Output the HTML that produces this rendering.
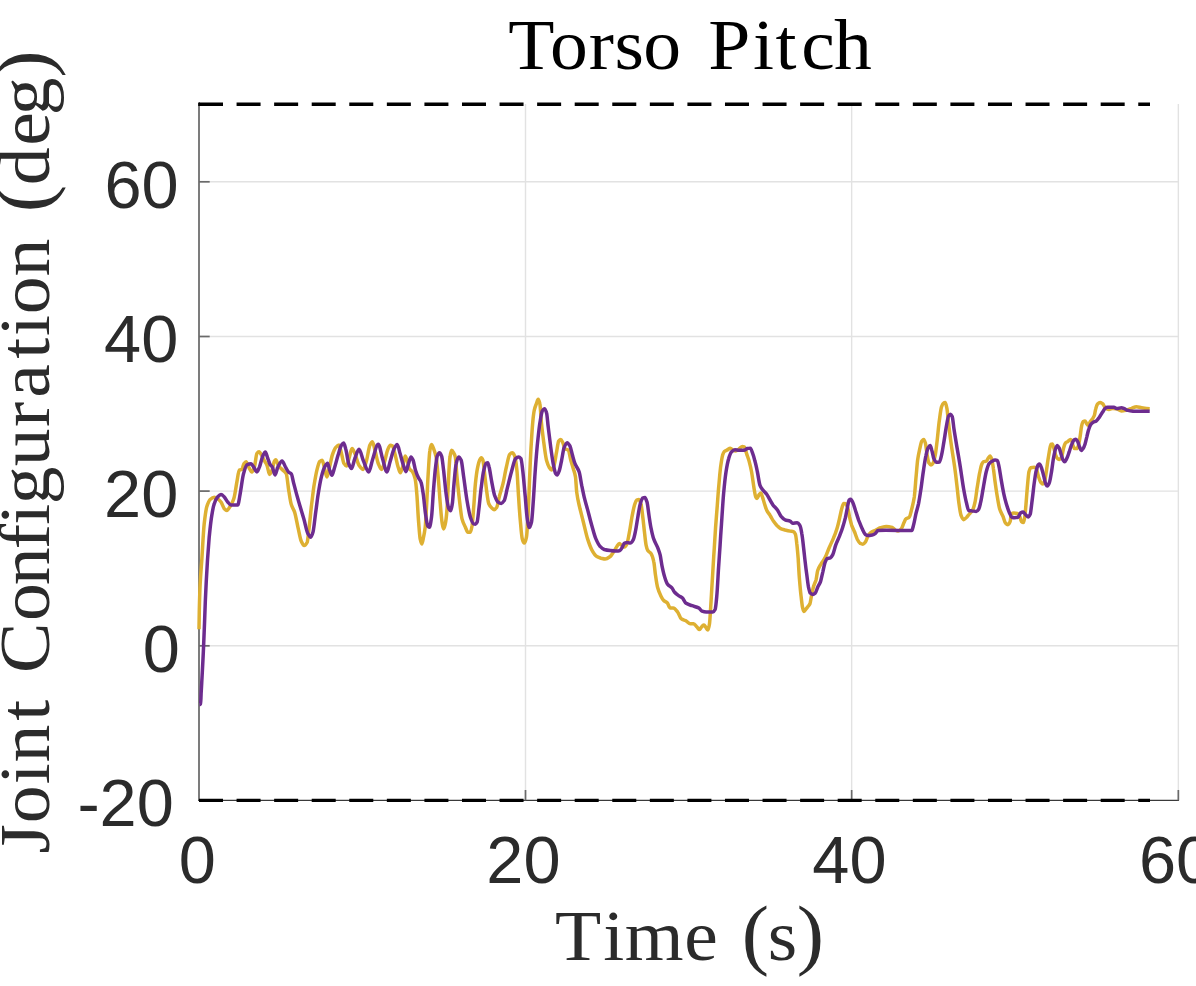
<!DOCTYPE html>
<html><head><meta charset="utf-8"><title>Torso Pitch</title>
<style>
html,body{margin:0;padding:0;background:#fff;}
body{width:1196px;height:986px;overflow:hidden;}
svg{display:block;}
.tk{font-family:"Liberation Sans",sans-serif;font-size:66.7px;fill:#2b2b2b;}
.lb{font-family:"Liberation Serif",serif;font-variant-ligatures:none;font-kerning:none;}
</style></head><body>
<svg width="1196" height="986" viewBox="0 0 1196 986">
<rect width="1196" height="986" fill="#fff"/>
<defs><clipPath id="ax"><rect x="197" y="100" width="985" height="703"/></clipPath></defs>
<g fill="none">
<line x1="525.5" y1="104" x2="525.5" y2="800" stroke="#e2e2e2" stroke-width="1.4"/>
<line x1="851.65" y1="104" x2="851.65" y2="800" stroke="#e2e2e2" stroke-width="1.4"/>
<line x1="1178.35" y1="104" x2="1178.35" y2="800" stroke="#e2e2e2" stroke-width="1.4"/>
<line x1="199" y1="181.8" x2="1178.3" y2="181.8" stroke="#e2e2e2" stroke-width="1.4"/>
<line x1="199" y1="336.5" x2="1178.3" y2="336.5" stroke="#e2e2e2" stroke-width="1.4"/>
<line x1="199" y1="491.1" x2="1178.3" y2="491.1" stroke="#e2e2e2" stroke-width="1.4"/>
<line x1="199" y1="645.8" x2="1178.3" y2="645.8" stroke="#e2e2e2" stroke-width="1.4"/>
</g>
<line x1="199" y1="103" x2="199" y2="801" stroke="#7c7c7c" stroke-width="2"/>
<line x1="198.2" y1="800.4" x2="1179" y2="800.4" stroke="#3a3a3a" stroke-width="1.1"/>
<g stroke="#6a6a6a" stroke-width="1.7">
<line x1="199" y1="181.8" x2="209.7" y2="181.8"/>
<line x1="199" y1="336.5" x2="209.7" y2="336.5"/>
<line x1="199" y1="491.1" x2="209.7" y2="491.1"/>
<line x1="199" y1="645.8" x2="209.7" y2="645.8"/>
<line x1="525.5" y1="800.4" x2="525.5" y2="790"/>
<line x1="851.65" y1="800.4" x2="851.65" y2="790"/>
<line x1="1178.35" y1="800.4" x2="1178.35" y2="790"/>
</g>
<g clip-path="url(#ax)" fill="none" stroke-width="3.5" stroke-linejoin="round" stroke-linecap="butt">
<path stroke="#deb032" d="M199.0,629.3C199.1,622.1 199.2,614.8 199.3,610.2C199.6,598.7 199.8,590.9 200.1,585.1C200.7,573.5 201.2,568.4 201.8,560.0C202.6,547.9 203.4,531.2 204.2,523.8C205.1,516.0 205.9,509.9 206.7,507.0C207.9,503.2 209.0,500.5 210.1,499.5C211.5,498.3 212.9,497.3 214.3,497.3C215.4,497.3 216.5,498.0 217.6,498.7C218.7,499.3 219.8,500.5 221.0,502.0C222.1,503.5 223.2,507.6 224.3,508.7C225.1,509.5 226.0,510.4 226.8,510.4C227.9,510.4 229.1,507.9 230.2,506.2C231.4,504.3 232.6,502.4 233.8,498.7C234.9,495.6 235.9,487.1 236.9,481.9C237.7,477.6 238.5,470.2 239.4,469.9C240.2,469.6 241.0,469.7 241.9,469.4C242.6,469.1 243.2,464.8 243.9,463.8C244.6,462.8 245.3,461.8 246.1,461.8C246.9,461.8 247.7,465.4 248.6,466.9C249.7,468.8 250.8,471.9 251.9,471.9C252.8,471.9 253.6,469.3 254.4,466.9C255.3,464.4 256.1,454.6 256.9,453.5C257.6,452.5 258.3,451.8 259.0,451.8C260.0,451.8 261.0,454.3 262.0,456.0C262.8,457.4 263.6,459.5 264.5,461.0C265.3,462.5 266.2,463.3 267.0,465.2C267.8,467.1 268.7,474.4 269.5,474.4C270.3,474.4 271.2,472.1 272.0,470.2C272.8,468.3 273.7,462.2 274.5,461.0C274.9,460.4 275.3,459.8 275.7,459.8C276.7,459.8 277.7,464.6 278.7,466.0C280.1,467.9 281.5,468.8 282.9,470.2C284.0,471.3 285.1,471.5 286.2,473.6C287.1,475.1 287.9,485.2 288.7,490.3C289.6,495.4 290.4,501.8 291.3,504.5C292.4,508.2 293.5,508.7 294.6,512.1C295.7,515.4 296.8,522.2 297.9,527.1C299.1,532.0 300.2,538.9 301.3,541.3C302.2,543.4 303.2,545.5 304.1,545.5C305.1,545.5 306.2,544.2 307.2,542.2C307.8,540.8 308.5,532.6 309.2,527.1C309.9,521.1 310.6,513.3 311.3,507.0C312.2,499.8 313.0,492.5 313.8,486.9C314.9,480.3 315.9,474.2 316.9,470.2C317.8,466.5 318.8,462.4 319.7,461.5C320.5,460.8 321.4,460.2 322.2,460.2C322.9,460.2 323.6,464.5 324.2,466.9C325.1,470.0 326.0,476.9 326.9,476.9C327.7,476.9 328.5,471.6 329.2,468.5C330.3,464.6 331.3,458.2 332.3,455.1C333.4,451.8 334.5,448.9 335.6,447.6C336.7,446.4 337.8,445.1 339.0,445.1C339.8,445.1 340.6,450.4 341.5,453.5C342.3,456.5 343.1,462.2 344.0,463.5C344.8,464.9 345.6,466.0 346.5,466.0C347.3,466.0 348.2,461.1 349.0,458.5C350.0,455.3 351.0,448.5 352.0,448.5C353.0,448.5 353.9,451.4 354.9,453.5C356.2,456.4 357.6,463.1 359.0,465.2C360.4,467.2 361.8,469.4 363.2,469.4C364.3,469.4 365.5,464.0 366.6,460.2C367.7,456.4 368.8,447.3 369.9,445.1C370.8,443.4 371.6,441.8 372.4,441.8C373.3,441.8 374.1,447.1 374.9,450.1C376.1,454.2 377.2,460.8 378.3,463.5C379.4,466.2 380.5,469.4 381.6,469.4C382.7,469.4 383.9,463.8 385.0,460.2C385.8,457.4 386.7,452.3 387.5,450.3C388.5,447.9 389.4,445.2 390.4,445.2C391.1,445.2 391.8,445.6 392.6,446.1C393.4,446.6 394.2,451.3 395.1,454.4C396.1,458.1 397.1,463.9 398.1,467.0C398.9,469.4 399.6,472.8 400.4,472.8C401.1,472.8 401.9,469.4 402.6,467.0C403.4,464.2 404.3,456.1 405.1,456.1C405.8,456.1 406.4,458.5 407.1,460.3C407.8,462.2 408.6,467.5 409.3,468.7C410.4,470.5 411.5,470.3 412.6,472.0C413.5,473.3 414.3,475.1 415.1,478.7C415.7,481.1 416.3,487.3 416.8,493.8C417.4,500.2 417.9,513.3 418.5,520.5C419.1,527.8 419.6,536.3 420.2,539.0C420.7,541.6 421.3,544.0 421.8,544.0C422.4,544.0 423.0,540.0 423.5,537.3C424.1,534.6 424.6,532.1 425.2,527.2C425.6,523.4 426.1,514.8 426.5,507.2C427.1,497.6 427.6,482.9 428.2,473.7C428.8,464.5 429.3,453.4 429.9,450.3C430.4,447.1 431.0,444.4 431.5,444.4C432.2,444.4 432.9,446.9 433.6,448.6C434.4,450.7 435.2,452.8 436.1,456.9C436.8,460.5 437.5,469.1 438.2,477.0C438.9,484.4 439.6,496.2 440.3,503.8C440.9,511.5 441.6,520.3 442.3,523.9C442.7,526.3 443.2,528.9 443.6,528.9C444.2,528.9 444.7,526.3 445.3,523.9C445.8,521.5 446.4,517.0 446.9,510.5C447.4,505.3 447.8,491.7 448.3,483.7C448.8,473.8 449.4,460.5 450.0,456.9C450.5,453.4 451.1,450.3 451.6,450.3C452.3,450.3 453.0,451.6 453.6,452.8C454.2,453.7 454.8,454.6 455.3,456.9C455.9,459.3 456.4,471.1 457.0,477.0C457.8,485.9 458.7,493.6 459.5,500.5C460.3,507.3 461.2,515.7 462.0,518.9C463.1,523.1 464.2,524.8 465.4,527.2C466.2,529.1 467.0,532.3 467.9,532.3C468.7,532.3 469.5,532.3 470.4,532.3C470.9,532.3 471.5,528.8 472.1,525.6C472.6,522.3 473.2,514.0 473.7,507.2C474.3,500.3 474.8,489.2 475.4,483.7C476.1,477.1 476.7,472.1 477.4,468.7C478.1,465.0 478.9,461.8 479.6,460.3C480.1,459.1 480.7,457.8 481.3,457.8C481.8,457.8 482.4,458.9 482.9,460.3C483.5,461.7 484.0,469.1 484.6,473.7C485.3,479.6 486.1,487.1 486.8,492.1C487.4,496.7 488.1,502.2 488.8,503.8C489.8,506.2 490.8,507.1 491.8,508.0C492.6,508.7 493.4,509.7 494.1,509.7C495.0,509.7 495.9,508.5 496.8,507.2C497.6,505.9 498.4,500.1 499.2,497.1C500.4,492.1 501.7,489.0 503.0,483.7C504.1,479.1 505.2,471.8 506.4,467.0C507.5,462.2 508.6,455.7 509.7,454.4C510.5,453.5 511.4,452.8 512.2,452.8C513.1,452.8 513.9,454.2 514.7,456.1C515.5,457.7 516.2,463.5 516.9,470.3C517.5,475.6 518.0,489.0 518.6,497.1C519.2,506.9 519.9,516.7 520.6,523.9C521.1,529.9 521.7,537.0 522.3,539.0C522.9,541.3 523.6,543.1 524.3,543.1C525.0,543.1 525.7,540.7 526.4,537.3C527.0,534.7 527.6,523.7 528.1,513.8C528.7,504.0 529.2,485.9 529.8,473.7C530.3,461.5 530.9,449.0 531.5,440.2C532.0,431.4 532.6,423.5 533.1,418.5C533.5,414.9 533.9,411.8 534.3,410.1C535.0,406.8 535.8,405.4 536.5,403.4C537.0,401.9 537.6,399.2 538.2,399.2C538.7,399.2 539.3,401.1 539.8,403.4C540.4,405.7 540.9,417.9 541.5,423.5C542.2,430.7 543.0,436.5 543.7,441.9C544.6,448.9 545.6,456.7 546.5,460.3C547.4,463.4 548.2,465.6 549.0,467.0C549.9,468.4 550.7,470.0 551.5,470.0C552.4,470.0 553.2,467.6 554.1,465.3C554.9,463.0 555.7,456.2 556.6,451.9C557.3,448.2 558.0,442.1 558.7,441.0C559.4,440.1 560.1,439.4 560.8,439.4C561.4,439.4 562.1,441.3 562.8,442.7C563.5,444.2 564.2,447.9 564.9,448.6C566.1,449.6 567.2,449.2 568.3,450.3C569.1,451.0 570.0,457.2 570.8,460.3C571.6,463.3 572.5,465.7 573.3,468.7C574.0,471.3 574.8,472.5 575.5,477.0C575.9,479.5 576.3,489.0 576.7,492.1C577.8,500.6 578.9,503.8 580.0,508.8C581.2,513.7 582.3,517.7 583.4,522.2C584.8,527.8 586.2,534.5 587.6,538.9C589.0,543.3 590.4,547.3 591.8,549.8C593.4,552.8 595.1,555.5 596.8,556.5C598.2,557.3 599.6,557.8 601.0,558.2C602.4,558.5 603.8,559.0 605.1,559.0C606.8,559.0 608.5,557.7 610.2,556.5C611.4,555.6 612.6,553.3 613.8,551.5C614.9,550.0 615.9,547.8 616.9,546.4C617.7,545.3 618.5,543.6 619.4,543.6C620.2,543.6 621.0,545.1 621.9,545.6C622.7,546.1 623.6,546.9 624.4,546.9C625.2,546.9 626.1,545.5 626.9,543.9C627.7,542.3 628.6,536.6 629.4,532.2C630.3,527.8 631.1,521.5 631.9,517.2C632.8,512.8 633.6,508.1 634.4,505.4C635.2,503.1 635.9,500.4 636.6,500.1C637.4,499.8 638.2,499.6 639.0,499.6C639.7,499.6 640.4,502.0 641.1,504.6C641.7,506.6 642.2,512.6 642.8,517.2C643.4,521.7 643.9,527.5 644.5,532.2C645.0,536.9 645.6,543.2 646.2,545.6C646.7,548.0 647.3,549.8 647.8,550.6C648.9,552.2 649.9,552.0 651.0,553.5C651.9,554.8 652.9,557.6 653.8,561.8C654.4,564.3 654.9,571.5 655.5,575.2C656.2,580.1 656.9,585.2 657.7,587.8C658.8,591.8 659.9,593.9 661.0,596.2C661.8,597.8 662.7,599.5 663.5,600.3C664.7,601.6 666.0,601.6 667.2,602.8C668.2,603.8 669.2,607.9 670.2,607.9C671.2,607.9 672.2,607.9 673.2,607.9C674.7,607.9 676.2,610.1 677.7,612.1C678.9,613.5 680.0,617.9 681.1,618.7C682.8,620.0 684.4,620.0 686.1,620.9C687.5,621.7 688.9,623.8 690.3,623.8C691.4,623.8 692.5,623.8 693.6,623.8C694.8,623.8 695.9,626.0 697.0,627.1C697.8,627.9 698.7,629.6 699.5,629.6C700.3,629.6 701.2,626.9 702.0,626.3C702.7,625.7 703.3,625.1 704.0,625.1C704.6,625.1 705.1,626.4 705.7,627.1C706.4,628.0 707.1,630.1 707.9,630.1C708.4,630.1 709.0,627.2 709.5,623.8C709.9,621.3 710.3,613.2 710.7,607.0C711.2,600.0 711.6,591.1 712.1,583.6C712.6,574.3 713.2,565.7 713.7,556.8C714.4,546.9 715.0,536.1 715.6,527.2C716.2,519.3 716.7,512.7 717.3,505.4C717.8,498.2 718.4,490.0 719.0,483.7C719.5,477.4 720.1,471.1 720.6,466.9C721.3,462.0 722.0,457.3 722.6,455.2C723.2,453.5 723.8,452.1 724.3,451.5C725.3,450.6 726.3,450.4 727.3,449.9C728.3,449.3 729.3,448.2 730.3,448.2C731.3,448.2 732.2,449.8 733.2,450.2C734.0,450.6 734.9,451.0 735.7,451.0C736.8,451.0 737.9,449.6 739.0,448.9C740.2,448.1 741.3,446.5 742.4,446.5C743.1,446.5 743.7,446.7 744.4,446.9C745.1,447.1 745.8,451.4 746.6,453.6C747.4,456.1 748.2,458.1 749.1,461.1C749.9,464.1 750.8,467.6 751.6,472.0C752.4,476.4 753.3,484.0 754.1,488.7C754.7,491.9 755.2,496.2 755.8,497.1C756.2,497.8 756.7,498.4 757.1,498.4C757.8,498.4 758.5,495.4 759.1,494.6C759.7,493.8 760.2,492.9 760.8,492.9C761.4,492.9 761.9,495.5 762.5,497.1C763.3,499.4 764.1,502.9 765.0,505.4C765.6,507.2 766.1,509.1 766.7,510.2C767.8,512.5 768.9,513.4 770.0,515.2C771.2,517.0 772.3,519.5 773.4,521.1C774.5,522.7 775.6,524.1 776.7,525.3C777.9,526.4 779.0,527.7 780.1,528.3C781.8,529.1 783.4,529.5 785.1,530.0C786.8,530.4 788.5,530.8 790.1,531.1C791.2,531.3 792.4,531.3 793.5,531.6C794.1,531.8 794.8,532.8 795.5,534.5C795.9,535.6 796.4,539.9 796.8,543.7C797.3,547.5 797.7,552.9 798.2,558.7C798.5,563.9 798.9,572.0 799.3,577.2C799.9,584.5 800.4,590.6 801.0,595.6C801.6,600.5 802.1,606.1 802.7,608.1C803.1,609.8 803.6,611.5 804.0,611.5C804.7,611.5 805.4,609.8 806.0,609.0C806.6,608.3 807.1,607.7 807.7,606.9C808.4,606.0 809.1,605.5 809.9,603.9C810.4,602.7 811.0,598.2 811.5,595.6C812.2,592.4 812.9,588.6 813.6,586.4C814.4,583.5 815.2,582.7 816.1,579.7C816.6,577.6 817.2,572.2 817.7,570.5C818.9,567.0 820.0,565.6 821.1,563.8C821.9,562.4 822.8,561.5 823.6,560.1C824.4,558.7 825.3,557.2 826.1,555.4C827.2,553.0 828.3,549.6 829.5,547.0C830.9,543.8 832.2,541.2 833.6,537.8C834.8,535.1 835.9,532.3 837.0,528.6C837.8,525.9 838.7,522.1 839.5,518.6C840.3,515.1 841.2,510.3 842.0,507.7C842.6,506.0 843.1,503.5 843.7,503.5C844.4,503.5 845.0,503.6 845.7,503.8C846.4,504.1 847.1,506.3 847.9,508.5C848.4,510.2 849.0,514.5 849.5,516.9C850.3,520.1 851.0,523.1 851.7,525.3C852.7,528.1 853.6,529.6 854.6,532.0C855.5,534.3 856.5,537.7 857.4,539.5C858.3,541.2 859.2,542.9 860.1,543.3C861.0,543.8 862.0,544.2 862.9,544.2C863.8,544.2 864.6,543.1 865.4,542.0C866.3,541.0 867.1,537.6 867.9,536.2C868.8,534.7 869.6,533.4 870.5,532.8C872.1,531.5 873.8,531.1 875.5,530.3C877.2,529.5 878.8,528.3 880.5,527.8C882.5,527.2 884.4,526.4 886.4,526.4C888.3,526.4 890.3,526.9 892.2,527.4C893.3,527.8 894.4,529.8 895.6,530.3C896.4,530.7 897.2,531.1 898.1,531.1C899.2,531.1 900.3,529.9 901.4,528.6C902.3,527.6 903.1,524.5 903.9,522.8C904.6,521.4 905.2,519.4 905.9,518.9C907.0,518.0 908.1,518.2 909.2,517.2C910.1,516.5 910.9,512.1 911.8,508.8C912.6,505.6 913.4,502.8 914.3,497.1C914.8,493.4 915.4,484.9 915.9,478.7C916.5,472.6 917.1,464.4 917.6,460.3C918.3,455.0 919.1,451.8 919.8,448.6C920.5,445.6 921.1,442.0 921.8,441.1C922.5,440.2 923.1,439.4 923.8,439.4C924.4,439.4 924.9,441.5 925.5,443.6C926.0,445.6 926.6,452.2 927.2,455.3C927.7,458.3 928.3,461.9 928.8,462.8C929.6,464.0 930.3,465.0 931.0,465.0C931.7,465.0 932.5,464.0 933.2,462.8C933.8,461.8 934.5,458.6 935.2,455.3C935.9,451.9 936.5,445.8 937.2,440.2C937.9,434.2 938.6,425.5 939.4,420.1C940.1,414.8 940.8,408.8 941.5,406.8C942.2,404.9 942.9,403.4 943.6,403.1C944.1,402.8 944.7,402.6 945.2,402.6C945.8,402.6 946.3,405.6 946.9,408.4C947.5,411.2 948.0,418.7 948.6,423.5C949.4,430.6 950.3,437.5 951.1,443.6C952.2,451.6 953.3,457.3 954.4,465.3C955.3,471.4 956.1,478.3 956.9,485.4C957.6,491.2 958.3,499.3 959.0,503.8C959.7,508.8 960.4,513.7 961.1,515.5C962.0,517.7 962.8,519.7 963.6,519.7C964.6,519.7 965.6,518.2 966.7,517.2C967.6,516.3 968.5,515.0 969.5,513.9C970.6,512.5 971.7,511.8 972.8,509.7C973.6,508.3 974.3,505.5 975.0,502.2C975.7,499.1 976.4,493.0 977.0,488.8C977.9,483.5 978.7,477.8 979.5,473.7C980.3,470.1 981.0,466.2 981.7,464.5C982.3,463.2 982.8,461.8 983.4,461.7C984.3,461.3 985.3,461.5 986.2,461.2C987.0,460.9 987.7,458.7 988.4,457.8C989.0,457.1 989.5,456.1 990.1,456.1C990.6,456.1 991.2,457.8 991.8,459.5C992.3,461.1 992.9,465.0 993.4,468.7C994.0,472.3 994.5,478.0 995.1,482.1C995.8,487.0 996.4,491.5 997.1,495.5C997.9,500.4 998.8,506.1 999.6,508.8C1000.7,512.5 1001.9,513.6 1003.0,516.4C1003.8,518.4 1004.6,522.2 1005.5,523.1C1006.3,524.0 1007.2,524.7 1008.0,524.7C1008.7,524.7 1009.4,523.3 1010.2,521.4C1010.6,520.4 1010.9,514.1 1011.3,513.9C1012.2,513.3 1013.0,513.0 1013.8,513.0C1015.1,513.0 1016.3,513.2 1017.5,513.5C1018.3,513.7 1019.0,515.0 1019.7,516.4C1020.3,517.4 1020.8,520.8 1021.4,521.4C1022.1,522.1 1022.7,522.6 1023.4,522.6C1023.8,522.6 1024.3,519.8 1024.7,517.2C1025.1,515.0 1025.5,509.8 1025.9,505.5C1026.3,500.6 1026.8,493.7 1027.2,488.8C1027.8,482.5 1028.4,474.3 1028.9,472.0C1029.5,469.8 1030.0,468.0 1030.6,467.8C1031.8,467.5 1033.0,467.3 1034.3,467.3C1035.0,467.3 1035.7,467.9 1036.4,468.7C1037.0,469.3 1037.6,473.6 1038.1,475.4C1039.0,478.1 1039.8,480.9 1040.6,482.1C1041.3,483.0 1042.0,484.1 1042.6,484.1C1043.4,484.1 1044.1,482.4 1044.8,480.4C1045.4,478.9 1045.9,473.9 1046.5,470.4C1047.2,465.7 1047.9,459.4 1048.7,455.3C1049.5,450.9 1050.2,444.5 1051.0,444.2C1051.4,444.0 1051.9,443.9 1052.3,443.9C1052.8,443.9 1053.3,446.4 1053.8,448.0C1054.5,450.0 1055.1,453.9 1055.8,455.5C1056.4,456.9 1057.0,458.2 1057.6,458.6C1058.2,459.1 1058.9,459.5 1059.6,459.5C1060.3,459.5 1061.0,458.2 1061.7,456.8C1062.3,455.5 1063.0,450.1 1063.6,448.0C1064.2,445.8 1064.9,443.6 1065.5,442.9C1066.3,442.1 1067.2,442.0 1068.0,441.4C1068.8,440.8 1069.7,439.4 1070.5,439.4C1070.9,439.4 1071.4,439.9 1071.8,440.4C1072.2,441.0 1072.6,444.3 1073.0,445.4C1073.6,446.9 1074.1,448.6 1074.7,448.6C1075.4,448.6 1076.1,448.6 1076.8,448.6C1077.4,448.6 1077.9,447.0 1078.4,445.4C1078.9,444.0 1079.4,440.9 1079.9,437.9C1080.5,434.9 1081.0,428.8 1081.5,426.6C1082.0,424.2 1082.5,421.9 1083.1,421.6C1083.7,421.2 1084.4,420.9 1085.0,420.9C1085.5,420.9 1086.0,422.8 1086.5,423.4C1087.0,424.2 1087.6,425.3 1088.1,425.3C1088.8,425.3 1089.4,423.1 1090.0,422.2C1090.9,420.8 1091.9,419.9 1092.8,418.4C1093.3,417.5 1093.9,416.8 1094.4,415.3C1094.8,414.1 1095.2,410.5 1095.7,409.0C1096.3,406.7 1096.9,404.6 1097.6,403.9C1098.4,403.1 1099.2,402.4 1100.1,402.4C1100.9,402.4 1101.7,403.1 1102.6,403.7C1103.3,404.3 1104.1,406.3 1104.8,407.1C1105.6,407.9 1106.3,408.6 1107.0,409.0C1107.6,409.3 1108.2,409.6 1108.9,409.6C1110.1,409.6 1111.4,408.4 1112.6,408.4C1113.9,408.4 1115.2,408.5 1116.4,408.7C1118.1,409.0 1119.8,410.9 1121.4,410.9C1123.1,410.9 1124.8,410.4 1126.5,410.0C1128.1,409.6 1129.8,408.9 1131.5,408.4C1133.2,407.8 1134.9,406.7 1136.5,406.7C1138.2,406.7 1139.9,407.5 1141.6,407.7C1144.3,408.1 1147.0,408.5 1149.7,408.7"/>
<path stroke="#6d2c8f" d="M199.5,704.8C199.8,704.8 200.2,704.5 200.6,703.9C200.8,703.7 201.0,697.2 201.1,693.9C202.0,677.4 202.8,664.6 203.6,645.9C204.2,633.4 204.8,614.3 205.3,601.8C206.0,585.6 206.8,571.2 207.5,560.0C208.1,551.0 208.7,543.3 209.2,537.2C210.1,528.3 210.9,520.5 211.8,515.4C212.6,510.3 213.4,506.1 214.3,503.7C215.4,500.5 216.5,498.2 217.6,497.0C218.7,495.8 219.8,494.5 221.0,494.5C222.1,494.5 223.2,495.9 224.3,497.0C225.4,498.1 226.5,500.8 227.7,502.0C228.8,503.3 229.9,505.0 231.0,505.0C233.2,505.0 235.5,505.0 237.7,505.0C238.5,505.0 239.4,497.9 240.2,493.6C241.3,487.9 242.4,477.6 243.6,473.6C244.7,469.5 245.8,465.4 246.9,464.9C248.3,464.2 249.7,463.8 251.1,463.8C251.9,463.8 252.8,465.8 253.6,466.9C254.7,468.3 255.8,471.9 256.9,471.9C257.8,471.9 258.6,468.9 259.5,466.9C260.6,464.1 261.7,458.3 262.8,456.0C263.6,454.3 264.5,452.1 265.3,452.1C266.2,452.1 267.0,456.4 267.8,458.5C268.7,460.6 269.5,463.7 270.3,464.9C271.0,465.8 271.7,465.9 272.3,466.9C273.2,468.2 274.1,474.9 275.0,474.9C276.0,474.9 276.9,468.7 277.9,466.9C279.3,464.2 280.7,461.0 282.1,461.0C283.2,461.0 284.3,465.0 285.4,466.9C286.5,468.7 287.6,471.2 288.7,472.2C289.6,473.0 290.4,472.9 291.3,473.9C292.1,474.8 292.9,480.4 293.8,483.6C295.4,489.9 297.1,496.2 298.8,502.0C300.5,507.9 302.1,512.9 303.8,518.7C305.2,523.6 306.6,531.4 308.0,533.8C308.9,535.4 309.9,537.2 310.8,537.2C311.6,537.2 312.3,534.6 313.0,532.1C313.8,529.2 314.7,519.9 315.5,513.7C316.4,507.6 317.2,500.6 318.0,495.3C319.1,488.3 320.3,481.2 321.4,476.9C322.5,472.6 323.6,468.9 324.7,466.9C325.7,465.2 326.6,463.2 327.6,463.2C328.3,463.2 329.0,468.3 329.7,470.2C330.5,472.2 331.2,475.2 331.9,475.2C332.7,475.2 333.5,471.0 334.3,468.5C335.6,464.5 336.8,459.3 338.1,455.1C339.2,451.6 340.3,446.6 341.5,445.1C342.2,444.1 342.9,443.1 343.6,443.1C344.3,443.1 345.0,446.2 345.6,448.5C346.7,451.9 347.7,460.9 348.7,463.5C349.6,466.0 350.6,468.5 351.5,468.5C352.6,468.5 353.7,461.3 354.9,458.5C356.2,454.9 357.6,449.3 359.0,449.3C360.4,449.3 361.8,456.9 363.2,460.2C365.1,464.5 366.9,471.9 368.7,471.9C370.0,471.9 371.2,463.8 372.4,460.2C374.4,454.4 376.3,444.3 378.3,444.3C379.7,444.3 381.1,454.1 382.5,458.5C384.0,463.3 385.5,472.0 387.0,472.0C388.0,472.0 389.0,465.2 390.0,462.0C391.4,457.4 392.8,451.2 394.2,448.6C395.2,446.7 396.2,444.4 397.2,444.4C398.2,444.4 399.1,450.4 400.1,453.6C401.2,457.3 402.3,462.1 403.4,465.3C404.3,467.8 405.1,471.7 405.9,471.7C406.8,471.7 407.6,466.1 408.5,463.6C409.3,461.2 410.1,456.9 411.0,456.9C411.7,456.9 412.4,458.7 413.1,460.3C413.9,462.1 414.7,467.8 415.5,470.3C416.5,473.5 417.5,475.9 418.5,477.9C419.3,479.5 420.2,479.9 421.0,482.1C421.7,483.9 422.5,489.0 423.2,493.8C424.0,498.9 424.7,508.6 425.5,513.8C426.2,518.7 427.0,524.9 427.7,525.9C428.3,526.7 428.8,527.2 429.4,527.2C430.1,527.2 430.8,522.3 431.5,517.2C432.1,513.2 432.7,500.9 433.2,493.8C433.9,485.2 434.6,476.2 435.2,470.3C435.9,464.4 436.6,457.8 437.2,456.1C438.0,454.3 438.7,452.8 439.4,452.8C440.1,452.8 440.9,454.3 441.6,456.1C442.3,457.8 442.9,465.0 443.6,470.3C444.4,477.0 445.3,487.9 446.1,493.8C446.9,499.7 447.8,506.1 448.6,508.0C449.3,509.5 450.0,510.8 450.6,510.8C451.2,510.8 451.7,507.3 452.3,503.8C452.9,500.3 453.4,489.6 454.0,483.7C454.7,476.1 455.4,466.7 456.2,463.6C457.0,460.1 457.8,456.9 458.7,456.9C459.5,456.9 460.3,458.4 461.2,460.3C462.0,462.2 462.8,471.3 463.7,477.0C464.8,484.6 465.9,494.0 467.0,500.5C468.1,507.0 469.3,514.0 470.4,517.2C471.5,520.4 472.6,523.5 473.7,523.9C474.3,524.1 474.8,524.2 475.4,524.2C476.0,524.2 476.5,523.3 477.1,522.2C477.7,520.9 478.4,512.7 479.1,507.2C479.8,501.2 480.5,492.7 481.3,487.1C482.1,480.6 482.9,473.7 483.8,470.3C484.6,467.0 485.4,463.5 486.3,463.1C486.8,462.9 487.3,462.8 487.8,462.8C488.2,462.8 488.7,465.2 489.1,467.0C490.0,470.5 490.9,477.5 491.8,482.1C492.7,486.9 493.7,492.7 494.6,495.4C495.8,498.6 496.9,501.4 498.0,502.1C499.1,502.9 500.2,503.5 501.3,503.5C502.3,503.5 503.2,502.0 504.2,500.5C505.2,498.8 506.2,492.7 507.2,488.7C508.6,483.2 510.0,477.0 511.4,472.0C512.8,467.0 514.2,459.9 515.6,458.6C516.6,457.7 517.6,456.9 518.6,456.9C519.4,456.9 520.1,457.6 520.9,458.6C521.6,459.6 522.4,467.6 523.1,473.7C523.8,479.8 524.5,489.3 525.3,497.1C525.9,504.3 526.6,514.9 527.3,518.9C528.0,523.1 528.7,527.6 529.5,527.6C530.1,527.6 530.8,525.1 531.5,522.2C532.0,519.8 532.6,511.1 533.1,503.8C533.7,496.5 534.3,485.0 534.8,477.0C535.6,465.1 536.5,453.8 537.3,445.2C538.2,436.6 539.0,428.8 539.8,423.5C540.7,418.2 541.5,412.4 542.3,410.9C543.0,409.8 543.7,408.7 544.4,408.7C545.1,408.7 545.8,410.4 546.5,412.6C547.1,414.3 547.6,422.2 548.2,426.8C549.0,433.7 549.9,440.8 550.7,446.9C551.5,453.0 552.4,459.5 553.2,463.6C554.1,467.8 554.9,472.4 555.7,473.7C556.2,474.4 556.6,475.0 557.1,475.0C557.9,475.0 558.6,472.5 559.4,470.3C560.1,468.3 560.9,463.8 561.6,460.3C562.4,456.3 563.3,449.9 564.1,447.7C565.1,445.2 566.1,442.7 567.1,442.7C568.1,442.7 569.0,444.4 570.0,446.1C570.8,447.6 571.6,452.3 572.5,455.3C573.3,458.2 574.1,461.5 575.0,463.6C576.4,467.2 577.8,467.7 579.2,472.0C580.0,474.5 580.9,481.2 581.7,485.4C582.6,489.5 583.4,493.6 584.2,497.1C585.3,501.7 586.5,505.4 587.6,509.6C589.0,514.9 590.4,520.7 591.8,525.5C593.2,530.4 594.5,535.7 595.9,538.9C597.3,542.1 598.7,545.0 600.1,546.4C601.5,547.9 602.9,549.0 604.3,549.5C606.3,550.1 608.2,550.4 610.2,550.6C612.1,550.9 614.1,551.1 616.0,551.1C617.3,551.1 618.6,551.0 619.9,550.6C620.7,550.4 621.4,548.6 622.2,547.3C622.9,546.1 623.7,543.3 624.4,543.1C625.5,542.8 626.6,542.6 627.7,542.6C628.6,542.6 629.4,543.1 630.3,543.1C631.3,543.1 632.3,541.5 633.3,539.7C634.0,538.4 634.8,534.3 635.6,530.5C636.3,527.1 637.1,521.3 637.8,517.2C638.6,512.4 639.5,506.5 640.3,503.8C641.1,501.0 642.0,498.1 642.8,497.9C643.5,497.7 644.3,497.6 645.0,497.6C645.6,497.6 646.3,499.8 647.0,502.1C647.7,504.3 648.3,511.2 649.0,515.5C649.7,520.1 650.4,525.3 651.2,528.9C652.0,532.9 652.8,536.5 653.7,538.9C655.0,542.7 656.3,544.2 657.7,547.6C658.5,549.8 659.3,551.8 660.2,555.1C660.8,557.8 661.5,563.6 662.2,566.9C663.1,571.2 664.0,575.1 664.9,577.7C665.8,580.6 666.8,583.3 667.7,584.4C669.1,586.2 670.5,586.2 671.9,587.8C672.7,588.7 673.6,591.0 674.4,592.0C675.8,593.6 677.2,594.7 678.6,595.6C679.8,596.5 681.0,596.8 682.3,597.8C683.5,598.9 684.8,602.5 686.1,603.3C688.1,604.6 690.0,605.0 692.0,605.7C694.2,606.5 696.4,606.7 698.7,607.9C699.8,608.4 700.9,610.8 702.0,611.2C703.4,611.7 704.8,612.1 706.2,612.1C708.4,612.1 710.7,612.1 712.9,612.1C713.6,612.1 714.3,611.0 715.1,609.5C715.6,608.4 716.2,602.7 716.7,597.0C717.3,591.3 717.9,578.8 718.4,570.2C719.0,561.6 719.5,553.6 720.1,545.1C720.5,538.1 721.0,530.6 721.5,523.8C722.2,513.2 722.9,501.8 723.6,493.7C724.4,485.0 725.2,477.1 726.0,472.0C726.9,466.1 727.8,461.4 728.7,458.6C729.6,455.5 730.6,452.9 731.5,451.9C732.6,450.7 733.7,449.7 734.9,449.7C736.2,449.7 737.6,450.2 739.0,450.2C740.7,450.2 742.4,450.2 744.1,450.2C745.2,450.2 746.3,448.7 747.4,448.5C748.4,448.4 749.4,448.2 750.4,448.2C751.1,448.2 751.8,450.9 752.4,452.7C753.3,455.0 754.1,457.9 754.9,461.1C755.8,464.2 756.6,468.0 757.4,472.0C758.3,476.0 759.1,483.2 760.0,485.4C760.8,487.5 761.6,488.4 762.5,489.5C763.9,491.5 765.3,492.4 766.7,494.3C768.6,496.9 770.6,501.7 772.6,504.4C774.2,506.7 775.9,507.8 777.6,510.2C778.7,511.8 779.8,514.7 780.9,516.1C782.3,517.8 783.7,519.4 785.1,519.9C786.8,520.6 788.5,520.4 790.1,521.1C791.0,521.4 791.8,523.3 792.6,523.3C794.1,523.3 795.6,522.8 797.2,522.8C798.0,522.8 798.9,523.9 799.8,525.3C800.5,526.3 801.2,529.9 801.8,533.6C802.4,536.7 803.0,542.3 803.5,547.0C804.1,551.8 804.6,557.4 805.2,562.1C805.7,566.8 806.3,571.3 806.9,575.5C807.4,579.6 808.0,584.6 808.5,587.2C809.1,589.8 809.7,592.5 810.2,593.1C811.0,593.9 811.9,594.4 812.7,594.4C813.6,594.4 814.4,593.8 815.2,593.1C816.1,592.3 816.9,589.0 817.7,587.2C818.7,585.1 819.6,584.0 820.6,581.3C821.3,579.3 822.0,575.2 822.8,572.1C823.5,569.1 824.2,564.9 824.9,562.9C825.6,561.1 826.3,559.1 826.9,558.7C828.1,558.2 829.2,558.4 830.3,557.9C831.1,557.5 832.0,556.1 832.8,554.6C833.8,552.8 834.7,548.0 835.6,545.4C836.9,541.8 838.2,539.4 839.5,536.2C840.6,533.3 841.7,530.5 842.8,526.9C843.7,524.3 844.5,521.3 845.4,517.7C846.0,514.9 846.7,510.9 847.4,507.7C847.9,505.1 848.5,500.7 849.0,500.2C849.6,499.7 850.2,499.3 850.7,499.3C851.4,499.3 852.2,501.2 852.9,502.7C853.7,504.4 854.6,507.7 855.4,510.2C856.5,513.6 857.6,517.2 858.7,520.3C859.9,523.3 861.0,526.3 862.1,528.6C863.2,530.9 864.3,533.7 865.4,534.5C866.3,535.1 867.1,535.6 867.9,535.6C869.3,535.6 870.7,535.3 872.1,535.0C873.2,534.7 874.4,534.1 875.5,533.3C876.3,532.7 877.2,530.7 878.0,530.6C880.5,530.4 883.0,530.3 885.5,530.3C894.3,530.3 903.0,530.6 911.8,530.6C912.3,530.6 912.9,527.6 913.4,525.6C914.3,522.6 915.1,517.5 915.9,513.9C916.8,510.3 917.6,507.8 918.5,503.8C919.3,499.8 920.1,494.3 921.0,488.8C921.8,483.2 922.6,475.9 923.5,470.4C924.3,464.8 925.1,458.9 926.0,455.3C926.7,452.1 927.4,449.0 928.2,447.8C928.8,446.7 929.5,445.6 930.2,445.6C930.7,445.6 931.3,448.4 931.8,450.3C932.5,452.5 933.2,457.2 933.8,458.6C934.7,460.5 935.6,462.3 936.5,462.3C937.5,462.3 938.4,462.2 939.4,462.0C940.1,461.8 940.8,458.2 941.5,455.3C942.3,452.2 943.1,446.6 943.9,441.9C944.8,436.6 945.7,429.9 946.6,425.2C947.2,421.7 947.9,416.9 948.6,416.0C949.2,415.0 949.9,414.3 950.6,414.3C951.1,414.3 951.7,415.4 952.3,416.8C952.8,418.2 953.4,424.9 953.9,428.5C954.9,435.1 955.9,440.8 956.9,446.9C958.1,453.7 959.2,460.0 960.3,467.0C961.4,474.0 962.5,482.5 963.6,488.8C964.6,494.4 965.6,499.9 966.7,503.8C967.3,506.5 968.0,510.4 968.7,510.5C969.8,510.8 970.9,510.7 972.0,510.9C973.4,511.0 974.8,511.4 976.2,511.4C977.0,511.4 977.9,510.4 978.7,509.2C979.4,508.2 980.0,505.0 980.7,502.2C981.6,498.3 982.5,492.0 983.4,487.1C984.3,481.9 985.3,475.6 986.2,472.0C987.2,468.4 988.1,464.9 989.1,463.7C990.1,462.3 991.1,461.7 992.1,461.2C993.1,460.6 994.1,460.0 995.1,460.0C995.9,460.0 996.7,460.2 997.4,460.6C998.0,461.0 998.6,464.4 999.1,467.0C999.8,470.4 1000.6,476.2 1001.3,480.4C1002.1,485.2 1003.0,490.0 1003.8,493.8C1004.6,497.6 1005.5,501.0 1006.3,503.8C1007.3,507.1 1008.2,510.0 1009.2,512.2C1010.1,514.2 1010.9,516.9 1011.8,517.2C1012.8,517.5 1013.7,517.7 1014.7,517.7C1015.8,517.7 1016.9,517.5 1018.0,517.2C1018.9,517.0 1019.7,513.6 1020.5,513.0C1021.4,512.4 1022.2,511.9 1023.1,511.9C1023.9,511.9 1024.7,513.9 1025.6,514.7C1026.4,515.5 1027.2,516.9 1028.1,516.9C1028.8,516.9 1029.5,515.6 1030.3,513.9C1030.8,512.5 1031.4,506.4 1031.9,502.2C1032.6,497.1 1033.3,490.4 1033.9,485.4C1034.6,480.5 1035.3,475.0 1035.9,472.0C1036.7,468.9 1037.4,465.8 1038.1,465.0C1038.6,464.5 1039.0,464.0 1039.5,464.0C1040.1,464.0 1040.8,466.2 1041.5,467.8C1042.3,469.9 1043.1,473.9 1044.0,477.1C1044.6,479.5 1045.3,483.6 1046.0,484.6C1046.4,485.3 1046.9,485.9 1047.3,485.9C1048.0,485.9 1048.7,484.5 1049.3,482.9C1050.1,481.1 1050.9,475.2 1051.7,470.6C1052.3,466.9 1052.9,461.5 1053.5,458.0C1054.2,454.6 1054.8,451.0 1055.4,449.2C1056.1,447.5 1056.7,445.4 1057.3,445.4C1057.9,445.4 1058.6,446.8 1059.2,448.0C1059.8,449.2 1060.5,452.3 1061.1,454.2C1061.7,456.2 1062.3,458.9 1063.0,459.9C1063.5,460.8 1064.1,461.8 1064.6,461.8C1065.3,461.8 1066.0,460.0 1066.7,458.6C1067.6,457.1 1068.4,454.1 1069.3,451.7C1070.1,449.3 1070.9,446.0 1071.8,444.2C1072.6,442.3 1073.5,440.3 1074.3,439.8C1074.8,439.5 1075.4,439.2 1075.9,439.2C1076.5,439.2 1077.1,440.6 1077.7,441.7C1078.4,442.9 1079.0,445.7 1079.7,447.3C1080.2,448.5 1080.7,450.5 1081.2,450.5C1081.8,450.5 1082.5,449.5 1083.1,448.6C1083.7,447.7 1084.4,446.0 1085.0,444.2C1085.6,442.3 1086.2,439.2 1086.9,436.6C1087.5,434.1 1088.1,431.0 1088.8,429.1C1089.4,427.2 1090.0,425.6 1090.6,424.7C1091.5,423.5 1092.3,422.7 1093.2,422.2C1094.2,421.6 1095.2,421.6 1096.3,420.9C1097.3,420.3 1098.4,418.6 1099.4,417.2C1100.5,415.7 1101.5,413.7 1102.6,412.1C1103.4,410.8 1104.3,408.9 1105.1,408.4C1105.9,407.8 1106.8,407.3 1107.6,407.3C1109.7,407.3 1111.8,407.3 1113.9,407.3C1114.9,407.3 1116.0,408.6 1117.0,408.6C1118.5,408.6 1120.0,407.7 1121.4,407.7C1122.5,407.7 1123.5,408.3 1124.6,408.7C1125.4,409.1 1126.3,410.0 1127.1,410.2C1129.0,410.8 1130.9,411.2 1132.8,411.2C1135.3,411.2 1137.8,411.2 1140.3,411.2C1143.4,411.2 1146.6,411.2 1149.7,411.2"/>
</g>
<g stroke="#000" stroke-width="3.4" stroke-dasharray="24 13.57" fill="none">
<line x1="199" y1="104.3" x2="1150" y2="104.3"/>
<line x1="198.2" y1="104.3" x2="200" y2="104.3" stroke-dasharray="none"/>
<line x1="199" y1="800.4" x2="1150" y2="800.4"/>
</g>
<g class="tk" text-anchor="end">
<text x="178.6" y="207.5">60</text>
<text x="178.3" y="362.2">40</text>
<text x="178.3" y="516.8">20</text>
<text x="179.8" y="671.5">0</text>
<text x="173.8" y="826.1">-20</text>
</g>
<g class="tk" text-anchor="middle">
<text x="197.2" y="883.3">0</text>
<text x="523.4" y="883.3">20</text>
<text x="849.4" y="883.3">40</text>
<text x="1176.0" y="883.3">60</text>
</g>
<text class="lb" fill="#000" font-size="72" transform="scale(1.05,1)" y="69.0" x="484.1 523.9 560.7 585.2 612.7 641.2 674.5 717.1 738.6 763.1 794.3">Torso Pitch</text>
<text class="lb" fill="#2b2b2b" font-size="72" transform="scale(1.05,1)" y="959.6" x="528.6 574.6 595.1 651.6 680.2 706.4 731.3 758.8">Time <tspan font-size="78">(</tspan>s<tspan font-size="78">)</tspan></text>
<text class="lb" fill="#2b2b2b" font-size="72" transform="translate(49.0,0) rotate(-90) scale(1.05,1)" y="0" x="-812.9 -784.0 -746.8 -726.3 -686.4 -657.8 -641.0 -591.5 -557.5 -523.2 -499.8 -480.2 -444.1 -406.6 -378.7 -341.7 -319.9 -299.2 -263.3 -234.7 -202.1 -176.5 -138.9 -109.8 -74.1">Joint Configuration <tspan font-size="78">(</tspan>deg<tspan font-size="78">)</tspan></text>
</svg></body></html>
